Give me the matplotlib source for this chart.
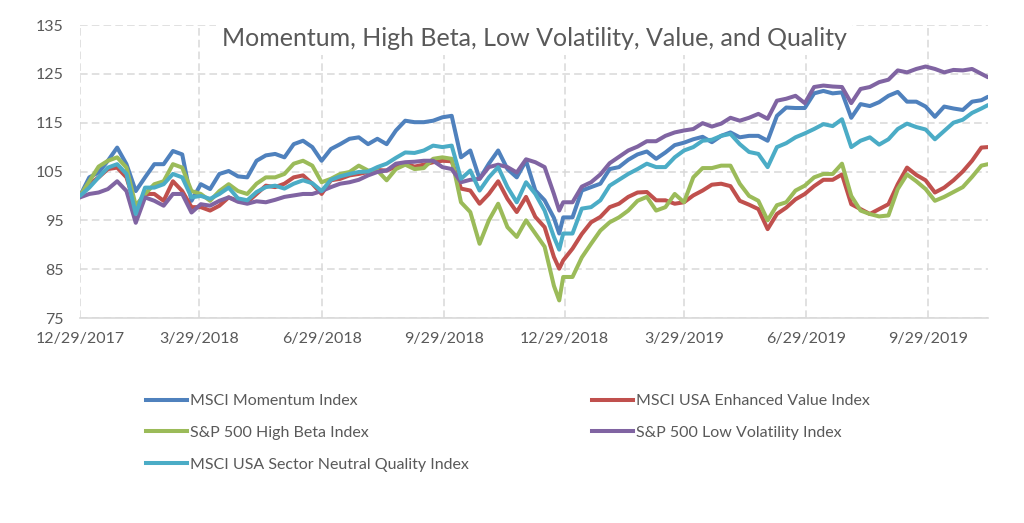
import matplotlib
matplotlib.use('Agg')
import matplotlib.pyplot as plt
from matplotlib.lines import Line2D
import pandas as pd

# ---------------- data ----------------
start_date = '2017-12-29'
day_offsets = [0, 7, 14, 21, 28, 35, 42, 49, 56, 63, 70, 77, 84, 91, 98, 105, 112, 119,
               126, 133, 140, 147, 154, 161, 168, 175, 182, 189, 196, 203, 210, 217, 224, 231, 238,
               245, 252, 259, 266, 273, 280, 287, 294, 301, 308, 315, 322, 329, 336, 343, 350, 357,
               361, 364, 371, 378, 385, 392, 399, 406, 413, 420, 427, 434, 441, 448, 455, 462, 469, 476,
               483, 490, 497, 504, 511, 518, 525, 532, 539, 546, 553, 560, 567, 574, 581, 588, 595, 602,
               609, 616, 623, 630, 637, 644, 651, 658, 665, 672, 679, 684]

momentum = [100, 103.8, 104.8, 107.2, 109.9, 106.5, 101, 103.8, 106.5, 106.5, 109.2, 108.5, 99, 102.4, 101.4, 104.5, 105.1, 104,
            103.8, 107.2, 108.3, 108.6, 107.9, 110.6, 111.3, 110, 107.2, 109.6, 110.6, 111.7, 112, 110.6, 111.7, 110.6, 113.4,
            115.4, 115.1, 115.1, 115.4, 116.1, 116.4, 107.9, 109.3, 103.5, 106.6, 109.3, 105.5, 103.8, 107.2, 101.1, 99.1, 95.5,
            92.3, 95.6, 95.6, 101.1, 101.8, 102.5, 105.5, 105.9, 107.4, 108.5, 109.1, 107.6, 108.9, 110.4, 110.9, 111.6, 112.1, 111,
            112.3, 113, 112, 112.3, 112.3, 111.3, 116.4, 118.1, 118, 118, 121, 121.5, 121, 121.2, 116, 118.8, 118.4, 119.2,
            120.5, 121.3, 119.3, 119.3, 118.3, 116.2, 118.3, 117.9, 117.6, 119.3, 119.6, 120.3]

enhanced_value = [100, 102.4, 103.8, 105.5, 105.8, 103.8, 97.7, 100.4, 100.4, 99, 103, 101, 97.7, 97.7, 97, 98, 99.7, 99,
                  98.7, 100.4, 102.1, 101.8, 102.5, 103.8, 104.2, 102.5, 100.4, 103.2, 103.5, 104.2, 104.5, 104.9, 105.3, 105.2, 106,
                  106.6, 106, 106.4, 106.9, 107.2, 107.1, 101.5, 101.1, 98.4, 100.4, 103, 99.4, 96.7, 99.8, 95.7, 93.6, 87.5,
                  85.1, 86.8, 89.2, 92.2, 94.6, 95.7, 97.7, 98.4, 99.8, 100.7, 100.8, 99.1, 99.1, 98.4, 98.7, 100.1, 101.1, 102.3,
                  102.5, 102, 99, 98.2, 97.3, 93.2, 96.3, 97.6, 99.3, 100.4, 102, 103.3, 103.3, 104.4, 98.3, 97.3, 96.3, 97.3,
                  98.3, 102.4, 105.8, 104.3, 103.2, 100.7, 101.7, 103.2, 105, 107.2, 109.9, 110]

high_beta = [100, 103, 106, 107.2, 107.9, 105.8, 98, 100.4, 102.4, 103, 106.5, 105.8, 101, 100.4, 99, 101, 102.4, 101,
             100.4, 102.5, 103.8, 103.8, 104.5, 106.6, 107.2, 106.2, 102.8, 103.5, 104.5, 104.9, 106.2, 105.2, 105.2, 103.2, 105.5,
             106.4, 105.5, 105.7, 107.6, 107.9, 107.6, 98.7, 96.7, 90.2, 95, 98.4, 93.6, 91.6, 95, 92.3, 89.6, 81.6,
             78.6, 83.4, 83.4, 87.4, 90.2, 92.9, 94.6, 95.6, 97, 99, 99.8, 97, 97.7, 100.4, 98.7, 103.8, 105.7, 105.7,
             106.2, 106.2, 102.5, 100, 99, 95, 98.1, 98.7, 101.1, 102.1, 103.8, 104.5, 104.5, 106.6, 100, 97, 96.3, 95.8,
             96, 101.4, 104.4, 103, 101.4, 99, 99.8, 100.8, 101.8, 103.9, 106.2, 106.5]

low_volatility = [99.7, 100.4, 100.7, 101.4, 103, 101, 94.5, 99.7, 99, 98, 100.4, 100.4, 96.6, 98.3, 98, 99, 99.7, 98.8,
                  98.4, 98.9, 98.7, 99.2, 99.8, 100.1, 100.4, 100.4, 101, 101.8, 102.5, 102.8, 103.3, 104.2, 104.9, 105.2, 106.6,
                  106.9, 107, 107.2, 107.2, 105.9, 105.5, 102.8, 103.3, 103.5, 105.9, 106.4, 105.9, 104.8, 107.5, 106.9, 105.9, 100.4,
                  97, 98.7, 98.7, 101.9, 102.8, 104.4, 106.7, 108, 109.3, 110.1, 111.2, 111.2, 112.3, 113, 113.4, 113.7, 114.9, 114.2,
                  114.8, 116, 115.4, 116, 116.8, 115.8, 119.5, 119.9, 120.5, 119, 122.3, 122.6, 122.4, 122.3, 119, 121.9, 122.3, 123.3,
                  123.8, 125.7, 125.3, 126, 126.5, 126, 125.3, 125.8, 125.7, 126, 125, 124.3]

quality = [100, 101.7, 103.8, 105.8, 106.5, 104.5, 96.3, 101.7, 101.7, 102.4, 104.5, 103.8, 99.7, 100, 99.4, 100.4, 101.7, 99.5,
           99.1, 100.8, 101.8, 102.1, 101.5, 102.5, 103.2, 102.6, 101, 103.3, 104, 104.5, 104.9, 105, 105.9, 106.6, 107.8,
           108.9, 108.8, 109.3, 110.3, 110, 110.3, 103.5, 105.2, 101.1, 103.8, 105.9, 101.8, 98.7, 102.8, 100.4, 97, 91.6,
           89, 92.3, 92.3, 97.4, 97.7, 99.1, 102.1, 103.3, 104.5, 105.5, 106.6, 105.9, 105.9, 107.9, 109.3, 110, 111.3, 111.5,
           112.3, 112.7, 110.6, 109, 108.6, 105.9, 110, 110.8, 112, 112.8, 113.7, 114.7, 114.3, 115.7, 110, 111.3, 112, 110.5,
           111.6, 113.7, 114.8, 114.1, 113.6, 111.6, 113.3, 115, 115.6, 117, 117.9, 118.6]

series_names = ['MSCI Momentum Index', 'MSCI USA Enhanced Value Index', 'S&P 500 High Beta Index',
                'S&P 500 Low Volatility Index', 'MSCI USA Sector Neutral Quality Index']
series_colors = ['#4F81BD', '#C0504D', '#9BBB59', '#8064A2', '#4BACC6']
x_tick_labels = ['12/29/2017', '3/29/2018', '6/29/2018', '9/29/2018', '12/29/2018',
                 '3/29/2019', '6/29/2019', '9/29/2019']
y_ticks = [75, 85, 95, 105, 115, 125, 135]
title = 'Momentum, High Beta, Low Volatility, Value, and Quality'

# ---------------- figure ----------------
plt.rcParams['font.family'] = ['Lato', 'DejaVu Sans']
text_color = '#595959'
grid_color = '#D9D9D9'

fig = plt.figure(figsize=(10.24, 5.23), dpi=100)
ax = fig.add_axes([80 / 1024, 1 - 318 / 523, (988 - 80) / 1024, (318 - 25) / 523])

dates = pd.Timestamp(start_date) + pd.to_timedelta(day_offsets, unit='D')
all_series = [momentum, enhanced_value, high_beta, low_volatility, quality]
for vals, name, col in zip(all_series, series_names, series_colors):
    ax.plot(dates, vals, color=col, lw=2.9, label=name,
            solid_capstyle='round', solid_joinstyle='round', zorder=3)

ax.set_xlim(dates[0], dates[-1])
ax.set_ylim(y_ticks[0], y_ticks[-1])
ax.set_yticks(y_ticks)
xt = pd.to_datetime(x_tick_labels, format='%m/%d/%Y')
ax.set_xticks(xt)
ax.set_xticklabels(x_tick_labels)

ax.grid(True, color=grid_color, linestyle=(0, (5, 2.7)), lw=1.1, zorder=0)
ax.set_axisbelow(True)
for s in ['left', 'right', 'top']:
    ax.spines[s].set_visible(False)
ax.spines['bottom'].set_color(grid_color)
ax.spines['bottom'].set_linewidth(1.2)
ax.tick_params(axis='both', length=0, colors=text_color, labelsize=11.5)
ax.tick_params(axis='y', pad=12)
ax.tick_params(axis='x', pad=10)

ax.text(0.5, 1 - 13 / 293, title, transform=ax.transAxes, ha='center', va='center',
        fontsize=18, color=text_color, zorder=5,
        bbox=dict(facecolor='white', edgecolor='none', pad=4))

leg_kw = dict(frameon=False, fontsize=11.5, handlelength=2.55, handletextpad=0.2,
              labelspacing=1.1, borderpad=0, borderaxespad=0, labelcolor=text_color)
order_left = [0, 2, 4]
order_right = [1, 3]
fig.legend([Line2D([], [], color=series_colors[i], lw=2.9) for i in order_left],
           [series_names[i] for i in order_left],
           loc='upper left', bbox_to_anchor=(146 / 1024, 1 - 394 / 523), **leg_kw)
fig.legend([Line2D([], [], color=series_colors[i], lw=2.9) for i in order_right],
           [series_names[i] for i in order_right],
           loc='upper left', bbox_to_anchor=(592 / 1024, 1 - 394 / 523), **leg_kw)

fig.savefig('out.png', dpi=100, facecolor='white')
